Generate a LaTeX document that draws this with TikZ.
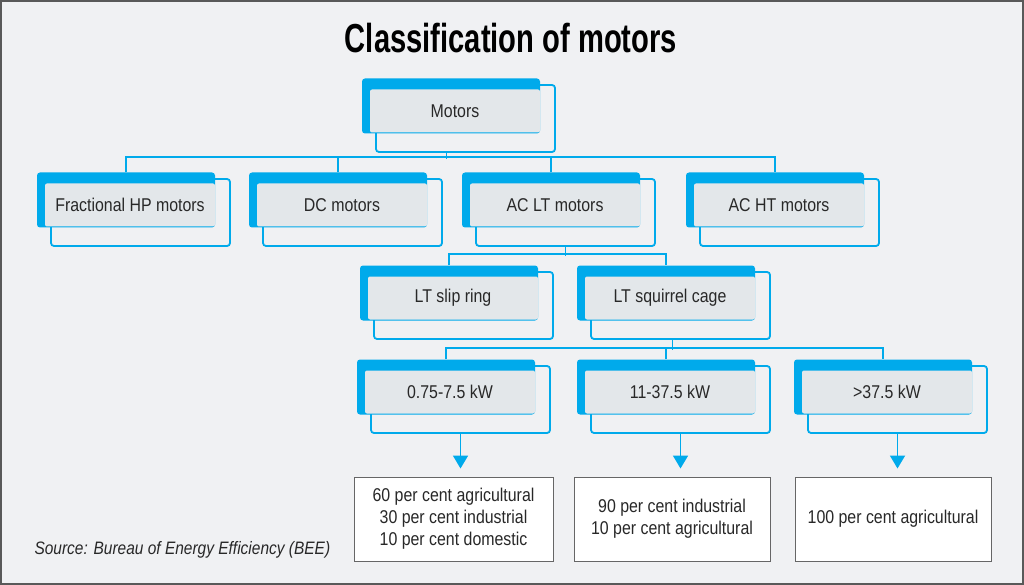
\documentclass[tikz,border=0pt]{standalone}
\usepackage{fontspec}
\setmainfont[FakeStretch=0.86]{Liberation Sans}
\newfontfamily\titlefont[FakeStretch=0.72]{Liberation Sans}
\usetikzlibrary{calc,arrows.meta,positioning}
\definecolor{beeblue}{RGB}{0,170,235}
\definecolor{boxgray}{RGB}{227,231,234}
\definecolor{pagegray}{RGB}{240,241,243}
\definecolor{inkgray}{RGB}{40,40,40}
\tikzset{%
    outerline/.style={%
        draw=beeblue, line width=1.8pt, rounded corners=3pt, minimum width=179pt, minimum height=67pt
    },
    tab/.style={%
        fill=beeblue, rounded corners=3pt, minimum width=178pt, minimum height=55pt
    },
    tier/.style={%
        fill=boxgray, rounded corners=2pt, minimum width=170pt, minimum height=43pt, text=inkgray,
        font=\fontsize{18.5}{20}\selectfont
    },
    share/.style={%
        draw=black!60, fill=white, line width=1pt, minimum height=84pt, align=center, text=inkgray,
        font=\fontsize{18.5}{22}\selectfont
    },
    link/.style={%
        draw=beeblue, line width=1.8pt
    },
    drop/.style={%
        link, -{Triangle[width=15pt,length=13pt]}, shorten >=8pt
    },
}
\newcommand{\tierbox}[4]{%
  \node[outerline] (#1-o) at (#2+10.5,#3+6.5) {};
  \node[tab] (#1-b) at (#2-4,#3-6) {};
  \node[tier] (#1) at (#2,#3-1) {#4};
}

\begin{document}
\begin{tikzpicture}[x=1pt,y=-1pt]

    \fill[pagegray] (0,0) rectangle (1024,585);
    \draw[black!65, line width=2pt] (1,1) rectangle (1023,584);
    \useasboundingbox (0,0) rectangle (1024,585);

    \node[font=\titlefont\bfseries\fontsize{40.5}{44}\selectfont, text=black] (title) at (511,38) {Classification of motors};

    % connectors first
    \tierbox{motors}{455}{112}{Motors}
    \draw[link] ([xshift=-19pt]motors-o.south) -- ++(0,6);

    \tierbox{frac}{130}{206}{Fractional HP motors}
    \tierbox{dcm}{342}{206}{DC motors}
    \tierbox{aclt}{555}{206}{AC LT motors}
    \tierbox{acht}{779}{206}{AC HT motors}
    \draw[link] (frac-b.north) -- ++(0,-15) -| (acht-b.north);
    \draw[link] (dcm-b.north) -- ++(0,-15);
    \draw[link] (aclt-b.north) -- ++(0,-15);

    \tierbox{slip}{453}{299}{LT slip ring}
    \tierbox{cage}{670}{299}{LT squirrel cage}
    \draw[link] (aclt-o.south) -- ++(0,9);
    \draw[link] (slip-b.north) -- ++(0,-11) -| (cage-b.north);

    \tierbox{low}{450}{393}{0.75-7.5 kW}
    \tierbox{mid}{670}{393}{11-37.5 kW}
    \tierbox{high}{887}{393}{>37.5 kW}
    \draw[link] ([xshift=-8pt]cage-o.south) -- ++(0,10);
    \draw[link] (low-b.north) -- ++(0,-11) -| (high-b.north);
    \draw[link] (mid-b.north) -- ++(0,-11);

    \node[share, minimum width=199pt] (low_share) at (453.5,519) {60 per cent agricultural\\30 per cent industrial\\10 per cent domestic};
    \node[share, minimum width=196pt] (mid_share) at (672,519) {90 per cent industrial\\10 per cent agricultural};
    \node[share, minimum width=196pt] (high_share) at (893,519) {100 per cent agricultural};

    \draw[drop] (low-o.south) -- (low-o.south |- low_share.north);
    \draw[drop] (mid-o.south) -- (mid-o.south |- mid_share.north);
    \draw[drop] (high-o.south) -- (high-o.south |- high_share.north);

    \node[anchor=west, text=inkgray, font=\itshape\fontsize{18}{20}\selectfont] (source) at (31,550) {Source: Bureau of Energy Efficiency (BEE)};

  \end{tikzpicture}
\end{document}
